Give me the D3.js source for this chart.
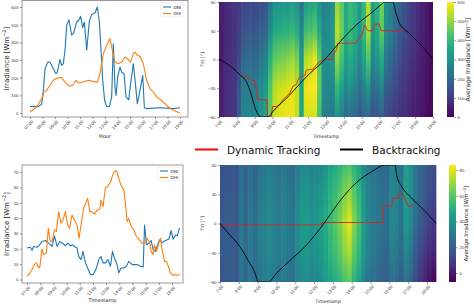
<!DOCTYPE html>
<html>
<head>
<meta charset="utf-8">
<script src="https://cdn.jsdelivr.net/npm/d3@7"></script>
<style>
  body { margin: 0; background: #fff; }
  svg { display: block; font-family: "DejaVu Sans", sans-serif; }
  .tick text { font-size: 4.3px; fill: #333; }
  .tick line { stroke: #333; stroke-width: 0.5; }
</style>
</head>
<body>
<svg id="chart" width="474" height="306"></svg>
<script>
"use strict";

const parseTime = d3.timeParse("%H:%M");

// ---- line charts (left) ----
const hourTicksTop = ["07:00", "08:00", "09:00", "10:00", "11:00", "12:00", "13:00", "14:00", "15:00", "16:00", "17:00", "18:00", "19:00"];
const hourTicksBottom = ["07:00", "08:00", "09:00", "10:00", "11:00", "12:00", "13:00", "14:00", "15:00", "16:00", "17:00", "18:00"];
const irrTicksTop = [0, 100, 200, 300, 400, 500, 600];
const irrTicksBottom = [0, 10, 20, 30, 40, 50, 60, 70];

const dniTopTime = ["07:00", "07:40", "07:56", "08:04", "08:12", "08:25", "08:36", "08:52", "09:05", "09:11", "09:24", "09:32", "09:40", "09:48", "09:56", "10:07", "10:20", "10:31", "10:44", "10:54", "11:03", "11:13", "11:21", "11:32", "11:45", "11:56", "12:12", "12:23", "12:33", "12:39", "12:49", "12:58", "13:08", "13:21", "13:32", "13:40", "13:48", "13:53", "14:01", "14:12", "14:22", "14:31", "14:41", "14:54", "15:03", "15:16", "15:26", "15:35", "15:48", "16:01", "16:09", "16:20", "17:24", "18:28", "19:00"];
const dniTopVal = [37, 37, 50, 128, 250, 288, 288, 250, 222, 232, 302, 270, 280, 355, 496, 528, 440, 458, 515, 525, 547, 483, 515, 355, 520, 558, 566, 600, 515, 392, 185, 72, 37, 37, 90, 392, 147, 100, 204, 260, 226, 226, 90, 75, 166, 279, 166, 53, 128, 213, 30, 25, 30, 25, 30];

const dhiTopTime = ["07:00", "07:32", "07:56", "08:07", "08:20", "08:36", "08:52", "09:16", "09:32", "09:48", "10:09", "10:25", "10:41", "10:52", "11:16", "11:40", "12:01", "12:23", "12:36", "12:52", "13:11", "13:24", "13:37", "13:48", "14:04", "14:20", "14:36", "14:52", "15:03", "15:16", "15:24", "15:35", "15:48", "16:04", "16:20", "16:36", "16:52", "17:08", "17:40", "18:04", "18:28", "19:00"];
const dhiTopVal = [6, 34, 81, 119, 128, 157, 185, 200, 200, 175, 151, 157, 185, 170, 175, 185, 179, 175, 222, 336, 392, 420, 345, 288, 279, 288, 317, 302, 288, 336, 345, 326, 321, 279, 185, 138, 119, 91, 62, 34, 15, 0];

const dniBottomTime = ["07:00", "07:15", "07:23", "07:30", "07:46", "07:58", "08:08", "08:24", "08:39", "08:54", "09:05", "09:17", "09:29", "09:44", "09:55", "10:05", "10:17", "10:30", "10:36", "10:48", "10:55", "11:06", "11:15", "11:26", "11:36", "11:49", "12:01", "12:16", "12:27", "12:37", "12:46", "12:57", "13:08", "13:20", "13:29", "13:38", "13:50", "13:58", "14:08", "14:21", "14:33", "14:43", "14:59", "15:21", "15:36", "15:49", "15:55", "16:04", "16:15", "16:25", "16:34", "16:45", "16:52", "17:03", "17:15", "17:30", "17:46", "17:56", "18:05", "18:16", "18:24", "18:34"];
const dniBottomVal = [20.5, 21, 19, 21.5, 21, 22.6, 24.8, 25.4, 23.7, 21.5, 28.4, 21.5, 24.8, 23.3, 22, 23.7, 22, 22.6, 21.5, 20.5, 15, 13, 18.3, 10.8, 7.5, 3.2, 3.2, 7.5, 13, 15, 10.8, 10.8, 13, 8.6, 18.3, 14, 9.7, 4.3, 7.5, 7.5, 8.6, 11.8, 9.7, 9.7, 8.6, 8.2, 35.5, 22.6, 23.7, 25.4, 19.4, 18.3, 21.5, 25.8, 24, 25.4, 26.3, 31.9, 26.3, 29, 28.4, 33.4];

const dhiBottomTime = ["07:00", "07:12", "07:23", "07:33", "07:43", "07:49", "07:58", "08:08", "08:16", "08:28", "08:37", "08:46", "08:54", "09:05", "09:14", "09:24", "09:35", "09:44", "09:55", "10:05", "10:14", "10:25", "10:36", "10:48", "10:57", "11:06", "11:18", "11:36", "11:46", "11:56", "12:07", "12:19", "12:31", "12:37", "12:46", "12:57", "13:08", "13:20", "13:32", "13:43", "13:50", "13:58", "14:08", "14:21", "14:28", "14:36", "14:43", "14:54", "15:06", "15:18", "15:29", "15:44", "15:55", "16:07", "16:19", "16:25", "16:34", "16:40", "16:49", "17:00", "17:08", "17:15", "17:26", "17:35", "17:46", "17:53", "18:05", "18:16", "18:27", "18:34"];
const dhiBottomVal = [2.2, 3.9, 6.5, 9.7, 10.8, 8.6, 7.5, 19.8, 16.2, 17.2, 33.4, 24.8, 24.8, 32.3, 31.2, 44.2, 36.6, 38.8, 44.2, 35.5, 33.4, 42, 38.8, 35.5, 26.9, 35.5, 46.3, 52.8, 44.2, 44.2, 42.6, 45.2, 45.7, 51.7, 47.4, 59.9, 60.7, 63.5, 68.9, 71, 70, 65.7, 61.4, 58.2, 49.5, 37.7, 39.8, 34.5, 32.3, 28, 26.3, 23.7, 23.7, 26.9, 23.7, 18.3, 16.2, 22.6, 18.3, 23.7, 26.9, 19.4, 11.8, 11.8, 7.5, 4.3, 2.6, 3.2, 2.6, 3.9];

// ---- heatmaps (right) ----
const tiltLevels = [60, 30, 0, -30, -60];
const tiltTicks = [60, 30, 0, -30, -60];
const heatHourTicksTop = ["07:00", "08:00", "09:00", "10:00", "11:00", "12:00", "13:00", "14:00", "15:00", "16:00", "17:00", "18:00", "19:00"];
const heatHourTicksBottom = ["07:00", "08:00", "09:00", "10:00", "11:00", "12:00", "13:00", "14:00", "15:00", "16:00", "17:00", "18:00"];
const cbarTicksTop = [0, 100, 200, 300, 400, 500, 600];
const cbarTicksBottom = [0, 20, 40, 60, 80];

// top heatmap, one value per 15 min column, one array per tilt level
const heatTop60 = [45, 70, 80, 85, 100, 120, 130, 130, 130, 140, 160, 230, 300, 300, 320, 310, 330, 300, 230, 330, 340, 360, 300, 260, 270, 300, 500, 450, 360, 400, 380, 320, 400, 540, 340, 380, 470, 300, 270, 230, 180, 150, 125, 100, 80, 60, 40, 25];
const heatTop30 = [45, 70, 80, 88, 110, 150, 160, 160, 160, 180, 200, 290, 360, 370, 380, 380, 400, 370, 270, 410, 420, 440, 360, 280, 290, 320, 540, 470, 370, 410, 380, 320, 400, 520, 330, 370, 450, 290, 260, 215, 170, 140, 115, 95, 75, 55, 38, 22];
const heatTop0 = [48, 72, 82, 92, 130, 200, 210, 200, 210, 240, 270, 380, 450, 470, 480, 490, 510, 480, 320, 530, 550, 580, 450, 300, 300, 310, 500, 420, 340, 370, 340, 280, 350, 430, 280, 310, 370, 240, 210, 175, 140, 115, 95, 80, 65, 50, 34, 20];
const heatTopM30 = [50, 75, 85, 95, 160, 250, 260, 250, 260, 290, 330, 440, 530, 550, 560, 570, 580, 550, 350, 580, 590, 600, 460, 290, 280, 280, 400, 340, 280, 300, 270, 220, 270, 310, 210, 230, 270, 180, 160, 135, 110, 95, 80, 65, 55, 42, 28, 16];
const heatTopM60 = [50, 75, 85, 95, 175, 270, 280, 270, 280, 310, 350, 460, 550, 570, 580, 580, 580, 540, 340, 560, 560, 560, 420, 260, 250, 240, 300, 260, 210, 220, 200, 160, 190, 200, 150, 160, 180, 130, 110, 100, 85, 75, 65, 55, 45, 35, 22, 12];

const heatBot60 = [16, 17, 17, 16, 26, 21, 26, 22, 27, 29, 31, 29, 26, 29, 27, 24, 31, 35, 36, 33, 34, 36, 40, 45, 48, 52, 56, 58, 52, 46, 36, 30, 28, 26, 24, 23, 34, 31, 27, 44, 38, 29, 23, 19, 17, 15];
const heatBot30 = [17, 18, 18, 17, 28, 22, 28, 24, 30, 32, 34, 32, 29, 32, 30, 27, 35, 39, 40, 37, 38, 41, 45, 51, 55, 60, 66, 70, 61, 53, 41, 33, 31, 28, 27, 25, 36, 33, 28, 44, 38, 29, 22, 18, 15, 13];
const heatBot0 = [18, 19, 19, 18, 30, 24, 30, 26, 32, 34, 36, 34, 31, 34, 32, 29, 37, 42, 43, 40, 41, 44, 49, 55, 60, 66, 74, 80, 67, 57, 44, 35, 32, 29, 28, 26, 36, 33, 28, 41, 35, 26, 19, 14, 11, 8];
const heatBotM30 = [18, 19, 19, 18, 30, 24, 30, 26, 31, 33, 35, 33, 30, 33, 31, 28, 36, 40, 41, 38, 39, 42, 47, 52, 56, 61, 68, 72, 61, 53, 41, 33, 30, 27, 25, 23, 32, 29, 24, 35, 29, 20, 13, 8, 5, 2];
const heatBotM60 = [17, 18, 18, 17, 28, 22, 28, 24, 29, 30, 32, 30, 27, 30, 28, 25, 33, 36, 37, 34, 35, 38, 42, 46, 49, 53, 57, 60, 52, 45, 35, 28, 26, 23, 21, 19, 27, 24, 19, 28, 22, 14, 7, 2, -2, -5];

// tracking angles
const backTopTime = ["07:00", "07:47", "08:10", "08:32", "08:49", "09:00", "09:11", "09:19", "09:45", "10:02", "10:58", "11:54", "12:50", "13:46", "14:42", "15:38", "16:12", "16:16", "16:45", "16:56", "17:07", "17:41", "18:26", "19:00"];
const backTopTilt = [0, -9, -16, -23, -37, -49, -57, -60, -60, -54, -37, -18, -2, 18, 36, 50, 59, 60, 60, 48, 38, 27, 13, 0];
const dynTopTime = ["08:15", "08:34", "08:43", "09:00", "09:06", "09:11", "09:41", "09:44", "09:56", "10:00", "10:13", "10:24", "10:35", "10:58", "11:09", "11:20", "11:31", "11:48", "11:54", "12:16", "12:27", "12:39", "12:56", "13:18", "13:26", "13:35", "13:40", "14:42", "14:48", "14:59", "15:10", "15:21", "15:38", "15:44", "15:58", "16:06", "17:19"];
const dynTopTilt = [-17, -17, -21, -22, -30, -42, -42, -60, -60, -49, -49, -47, -42, -35, -28, -26, -18, -17, -11, -10, -6, -2, 0, 0, 6, 10, 17, 17, 22, 24, 36, 30, 30, 37, 37, 30, 30];

const backBotTime = ["07:00", "07:32", "08:04", "08:30", "08:52", "09:02", "09:34", "10:00", "10:43", "11:36", "12:29", "13:22", "14:15", "15:08", "15:46", "16:18", "16:23", "16:39", "17:05", "17:37", "18:30"];
const backBotTilt = [0, -12, -24, -38, -51, -60, -60, -51, -38, -22, -1, 23, 42, 54, 60, 60, 50, 38, 28, 18, 0];
const dynBotTime = ["07:00", "12:24", "12:24", "15:40", "15:40", "16:09", "16:09", "16:28", "16:28", "16:44", "17:00", "17:18"];
const dynBotTilt = [-1.5, -1.5, 1, 1, 18, 18, 26, 26, 30, 30, 18, 18];

const svg = d3.select("#chart");
const defs = svg.append("defs");

function styleAxis(g) {
  g.select(".domain").remove();
}

function drawLineChart(c) {
  const x = d3.scaleTime()
    .domain([parseTime(c.ticks[0]), parseTime(c.ticks[c.ticks.length - 1])])
    .range(c.xRange);
  const y = d3.scaleLinear().domain(c.yDomain).range(c.yRange);
  const [fx0, fy0, fx1, fy1] = c.frame;

  const line = d3.line()
    .x(d => x(d.t))
    .y(d => y(d.v));

  c.series.forEach(s => {
    const pts = s.time.map((t, i) => ({ t: parseTime(t), v: s.val[i] }));
    svg.append("path")
      .datum(pts)
      .attr("fill", "none")
      .attr("stroke", s.color)
      .attr("stroke-width", 1.1)
      .attr("stroke-linejoin", "round")
      .attr("d", line);
  });

  svg.append("rect")
    .attr("x", fx0).attr("y", fy0)
    .attr("width", fx1 - fx0).attr("height", fy1 - fy0)
    .attr("fill", "none")
    .attr("stroke", "#9a9a9a")
    .attr("stroke-width", 1);

  svg.append("g")
    .attr("transform", `translate(${fx0},0)`)
    .call(d3.axisLeft(y).tickValues(c.yTicks).tickSize(2).tickPadding(1.5))
    .call(styleAxis);

  svg.append("g")
    .attr("transform", `translate(0,${fy1})`)
    .call(d3.axisBottom(x).tickValues(c.ticks.map(parseTime)).tickFormat(d3.timeFormat("%H:%M")).tickSize(2))
    .call(styleAxis)
    .selectAll("text")
    .attr("x", 0).attr("y", 0).attr("dy", "0.35em")
    .attr("text-anchor", "end")
    .attr("transform", "translate(2,4) rotate(-45)");

  svg.append("text")
    .attr("x", (fx0 + fx1) / 2).attr("y", c.xLabelY)
    .attr("text-anchor", "middle")
    .attr("font-size", 5)
    .attr("fill", "#222")
    .text(c.xLabel);

  const yl = svg.append("text")
    .attr("transform", `translate(9,${(fy0 + fy1) / 2}) rotate(-90)`)
    .attr("text-anchor", "middle")
    .attr("font-size", 7)
    .attr("fill", "#222");
  yl.append("tspan").text("Irradiance [Wm");
  yl.append("tspan").attr("font-size", 5).attr("dy", -3).text("\u22122");
  yl.append("tspan").attr("dy", 3).text("]");

  // legend
  const [lx, ly] = c.legend;
  svg.append("rect")
    .attr("x", lx).attr("y", ly)
    .attr("width", 22).attr("height", 14).attr("rx", 1)
    .attr("fill", "#fff").attr("stroke", "#ddd").attr("stroke-width", 0.5);
  c.series.forEach((s, i) => {
    const yy = ly + 4 + i * 6.5;
    svg.append("line")
      .attr("x1", lx + 2).attr("x2", lx + 10)
      .attr("y1", yy).attr("y2", yy)
      .attr("stroke", s.color).attr("stroke-width", 1.1);
    svg.append("text")
      .attr("x", lx + 12.5).attr("y", yy + 1.5)
      .attr("font-size", 4.2).attr("fill", "#222")
      .text(s.name);
  });
}

function drawHeatmap(c) {
  const x = d3.scaleTime().domain(c.xDomain.map(parseTime)).range(c.xRange);
  const y = d3.scaleLinear().domain([-60, 60]).range([c.bottom, c.top]);
  const color = d3.scaleSequential(d3.interpolateViridis).domain(c.cDomain);
  const start = parseTime(c.xDomain[0]);
  const end = parseTime(c.xDomain[1]);
  // 15 minute column grid
  const colTimes = d3.timeMinute.every(15).range(start, end);
  const cols = colTimes.map((t, i) => ({ t: t, vals: c.rows.map(r => r[i]) }));

  defs.append("clipPath").attr("id", c.id + "clip")
    .append("rect")
    .attr("x", x(start)).attr("y", c.top)
    .attr("width", x(end) - x(start)).attr("height", c.bottom - c.top);

  cols.forEach((col, i) => {
    const g = defs.append("linearGradient")
      .attr("id", c.id + "g" + i)
      .attr("x1", 0).attr("y1", 0).attr("x2", 0).attr("y2", 1);
    tiltLevels.forEach((tilt, j) => {
      g.append("stop")
        .attr("offset", (60 - tilt) / 120)
        .attr("stop-color", color(col.vals[j]));
    });
  });

  const hm = svg.append("g").attr("clip-path", `url(#${c.id}clip)`);
  hm.selectAll("rect")
    .data(cols)
    .enter()
    .append("rect")
    .attr("x", d => x(d.t))
    .attr("width", d => x(d3.timeMinute.offset(d.t, 15)) - x(d.t) + 0.6)
    .attr("y", y(60))
    .attr("height", y(-60) - y(60))
    .attr("fill", (d, i) => `url(#${c.id}g${i})`);

  const line = d3.line().x(d => x(d.t)).y(d => y(d.v));
  const backPts = c.back.time.map((t, i) => ({ t: parseTime(t), v: c.back.tilt[i] }));
  const dynPts = c.dyn.time.map((t, i) => ({ t: parseTime(t), v: c.dyn.tilt[i] }));

  hm.append("path")
    .datum(dynPts)
    .attr("fill", "none").attr("stroke", "#e0201a").attr("stroke-width", 0.9)
    .attr("d", line);
  hm.append("path")
    .datum(backPts)
    .attr("fill", "none").attr("stroke", "#000").attr("stroke-width", 0.9)
    .attr("d", line.curve(d3.curveMonotoneX));

  svg.append("g")
    .attr("transform", `translate(${x(start)},0)`)
    .call(d3.axisLeft(y).tickValues(tiltTicks).tickSize(2).tickPadding(1.5))
    .call(styleAxis);

  svg.append("g")
    .attr("transform", `translate(0,${c.bottom})`)
    .call(d3.axisBottom(x).tickValues(c.ticks.map(parseTime)).tickFormat(d3.timeFormat("%-H:%M")).tickSize(2))
    .call(styleAxis)
    .selectAll("text")
    .attr("x", 0).attr("y", 0).attr("dy", "0.35em")
    .attr("text-anchor", "end")
    .attr("transform", "translate(2,4) rotate(-45)");

  svg.append("text")
    .attr("x", (c.xRange[0] + c.xRight) / 2).attr("y", c.xLabelY)
    .attr("text-anchor", "middle")
    .attr("font-size", 4.6).attr("fill", "#222")
    .text("Timestamp");

  svg.append("text")
    .attr("transform", `translate(204,${(c.top + c.bottom) / 2}) rotate(-90)`)
    .attr("text-anchor", "middle")
    .attr("font-size", 4.6).attr("fill", "#222")
    .text("Tilt [\u00b0]");

  // colorbar
  const cb = c.cbar;
  const grad = defs.append("linearGradient")
    .attr("id", c.id + "cbar")
    .attr("x1", 0).attr("y1", 1).attr("x2", 0).attr("y2", 0);
  d3.range(0, 1.0001, 0.05).forEach(o => {
    grad.append("stop").attr("offset", o).attr("stop-color", d3.interpolateViridis(o));
  });
  const cy = d3.scaleLinear().domain(c.cDomain).range([c.bottom, c.top]);
  svg.append("rect")
    .attr("x", cb.x).attr("y", c.top)
    .attr("width", cb.w).attr("height", c.bottom - c.top)
    .attr("fill", `url(#${c.id}cbar)`);
  svg.append("g")
    .attr("transform", `translate(${cb.x + cb.w},0)`)
    .call(d3.axisRight(cy).tickValues(cb.ticks).tickSize(2).tickPadding(1.5))
    .call(styleAxis);

  const cl = svg.append("text")
    .attr("transform", `translate(${cb.labelX},${(c.top + c.bottom) / 2}) rotate(-90)`)
    .attr("text-anchor", "middle")
    .attr("font-size", cb.fs).attr("fill", "#222");
  cl.append("tspan").text("Average Irradiance [Wm");
  cl.append("tspan").attr("font-size", cb.fs * 0.7).attr("dy", -2.5).text("\u22122");
  cl.append("tspan").attr("dy", 2.5).text("]");
}

drawLineChart({
  frame: [22, 0.5, 188, 117],
  xRange: [30, 180],
  ticks: hourTicksTop,
  yDomain: [0, 600],
  yRange: [113, 7],
  yTicks: irrTicksTop,
  xLabel: "Hour",
  xLabelY: 138,
  legend: [161, 3],
  series: [
    { name: "DNI", time: dniTopTime, val: dniTopVal, color: "#1f77b4" },
    { name: "DHI", time: dhiTopTime, val: dhiTopVal, color: "#ff7f0e" }
  ]
});

drawLineChart({
  frame: [22, 165, 183, 283],
  xRange: [27, 172],
  ticks: hourTicksBottom,
  yDomain: [0, 70],
  yRange: [279.5, 172],
  yTicks: irrTicksBottom,
  xLabel: "Timestamp",
  xLabelY: 302,
  legend: [158, 167],
  series: [
    { name: "DNI", time: dniBottomTime, val: dniBottomVal, color: "#1f77b4" },
    { name: "DHI", time: dhiBottomTime, val: dhiBottomVal, color: "#ff7f0e" }
  ]
});

drawHeatmap({
  id: "top",
  xDomain: ["07:00", "19:00"],
  xRange: [219, 433],
  xRight: 433,
  top: 2, bottom: 117,
  ticks: heatHourTicksTop,
  cDomain: [0, 600],
  rows: [heatTop60, heatTop30, heatTop0, heatTopM30, heatTopM60],
  back: { time: backTopTime, tilt: backTopTilt },
  dyn: { time: dynTopTime, tilt: dynTopTilt },
  xLabelY: 138,
  cbar: { x: 447, w: 7, ticks: cbarTicksTop, labelX: 470, fs: 6.2 }
});

drawHeatmap({
  id: "bot",
  xDomain: ["07:00", "18:30"],
  xRange: [220, 436.4],
  xRight: 436.4,
  top: 165, bottom: 282,
  ticks: heatHourTicksBottom,
  cDomain: [-7, 84],
  rows: [heatBot60, heatBot30, heatBot0, heatBotM30, heatBotM60],
  back: { time: backBotTime, tilt: backBotTilt },
  dyn: { time: dynBotTime, tilt: dynBotTilt },
  xLabelY: 303,
  cbar: { x: 449, w: 7, ticks: cbarTicksBottom, labelX: 468, fs: 5.6 }
});

// shared legend
const legendItems = [
  { name: "Dynamic Tracking", color: "#ff0000", x: 195 },
  { name: "Backtracking", color: "#000", x: 340 }
];
legendItems.forEach(d => {
  svg.append("line")
    .attr("x1", d.x).attr("x2", d.x + 23)
    .attr("y1", 149.5).attr("y2", 149.5)
    .attr("stroke", d.color).attr("stroke-width", 2);
  svg.append("text")
    .attr("x", d.x + 32).attr("y", 154)
    .attr("font-size", 10.5).attr("fill", "#111")
    .text(d.name);
});
</script>
</body>
</html>
